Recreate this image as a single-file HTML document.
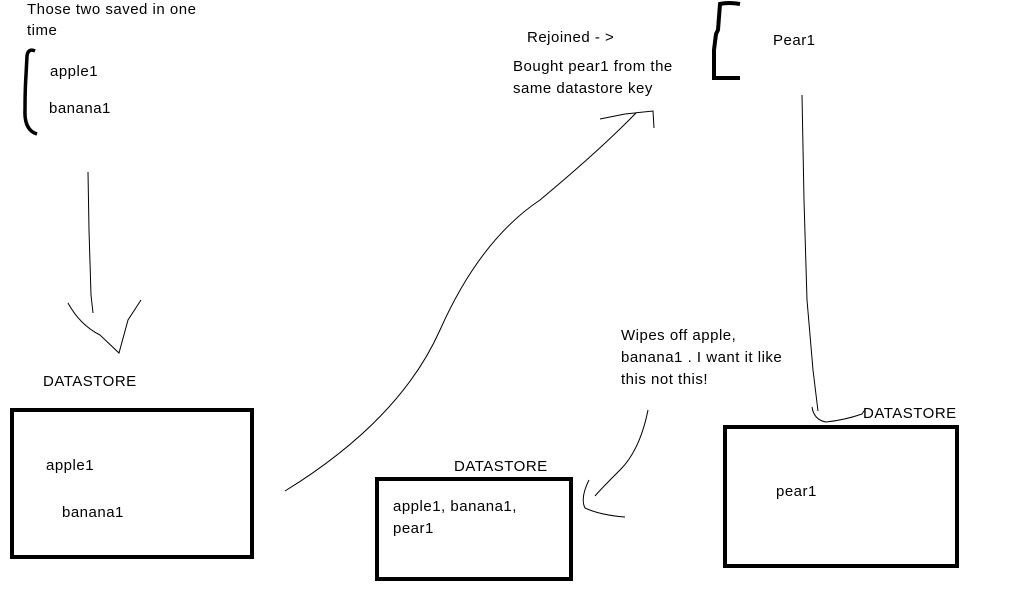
<!DOCTYPE html>
<html><head><style>
body{margin:0;background:#fff;}
svg{display:block;}
text{font-family:"Liberation Sans",sans-serif;font-size:15px;letter-spacing:0.5px;fill:#000;}
</style></head><body>
<svg width="1035" height="589" viewBox="0 0 1035 589">
<g fill="none" stroke="#000">
<path d="M35 51 Q28 48 27 56 L26 75 Q25 90 25 110 Q24 130 37 134" stroke-width="3.5"/>
<path d="M740 4 Q728 2 720 4 L718 30 L716 34 L714 50 L714 78 L740 78" stroke-width="4"/>
<path d="M88 172 L89 230 L91 295 L93 313" stroke-width="1"/>
<path d="M68 303 Q80 325 100 335 L119 353 L128 320 L141 300" stroke-width="1"/>
<path d="M285 491 Q400 420 440 330 Q480 240 540 200 Q600 150 636 113" stroke-width="1"/>
<path d="M600 119 L625 114 L653 111 L654 128" stroke-width="1"/>
<path d="M802 95 L804 200 L807 300 L813 370 L818 411" stroke-width="1"/>
<path d="M812 407 Q814 420 826 422 Q845 420 862 414 L866 408" stroke-width="1"/>
<path d="M648 410 Q640 450 620 470 Q600 490 595 496" stroke-width="1"/>
<path d="M589 480 Q580 498 585 508 Q600 515 625 517" stroke-width="1"/>
<rect x="12" y="410" width="240" height="147" stroke-width="4"/>
<rect x="377" y="479" width="194" height="100" stroke-width="4"/>
<rect x="725" y="427" width="232" height="139" stroke-width="4"/>
</g>
<text x="27" y="14">Those two saved in one</text>
<text x="27" y="35">time</text>
<text x="50" y="76">apple1</text>
<text x="49" y="113">banana1</text>
<text x="527" y="42">Rejoined - &gt;</text>
<text x="513" y="71">Bought pear1 from the</text>
<text x="513" y="93">same datastore key</text>
<text x="773" y="45">Pear1</text>
<text x="621" y="340">Wipes off apple,</text>
<text x="621" y="362">banana1 . I want it like</text>
<text x="621" y="384">this not this!</text>
<text x="43" y="386">DATASTORE</text>
<text x="454" y="471">DATASTORE</text>
<text x="863" y="418">DATASTORE</text>
<text x="46" y="470">apple1</text>
<text x="62" y="517">banana1</text>
<text x="393" y="511">apple1, banana1,</text>
<text x="393" y="533">pear1</text>
<text x="776" y="496">pear1</text>
</svg>
</body></html>
